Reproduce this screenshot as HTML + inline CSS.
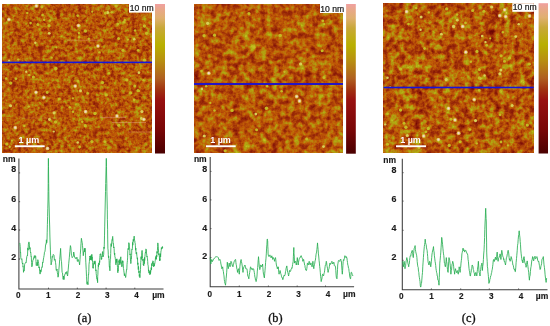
<!DOCTYPE html>
<html><head><meta charset="utf-8"><style>
html,body{margin:0;padding:0;background:#fff;width:550px;height:326px;overflow:hidden}
svg{display:block}
.lab.ylab{font-size:8.9px}
.lab.xlab{font-size:8.2px}
.t10{font:8.6px "Liberation Sans",Arial,sans-serif;fill:#1a1a1a;stroke:#1a1a1a;stroke-width:0.22}
.sbt{font:bold 9px "Liberation Sans",Arial,sans-serif;fill:#fff}
.lab{font:bold 8.5px "Liberation Sans",Arial,sans-serif;fill:#1a1a1a;stroke:#1a1a1a;stroke-width:0.15}
.pl{font:12.4px "Liberation Serif","Times New Roman",serif;fill:#111;stroke:#111;stroke-width:0.3}
.axis{fill:none;stroke:#3c3c3c;stroke-width:1.05}
.tick{fill:none;stroke:#444;stroke-width:1}
.crv{fill:none;stroke:#28ad52;stroke-width:0.85;stroke-linejoin:round}
</style></head><body>
<svg width="550" height="326" viewBox="0 0 550 326">
<defs>
<filter id="dblur" x="-5%" y="-5%" width="110%" height="110%"><feGaussianBlur stdDeviation="0.45"/></filter>
<filter id="fa" x="0" y="0" width="1" height="1" color-interpolation-filters="sRGB">
<feTurbulence type="fractalNoise" baseFrequency="0.07" numOctaves="2" seed="7" result="t1"/>
<feColorMatrix in="t1" type="matrix" values="1 0 0 0 0 1 0 0 0 0 1 0 0 0 0 0 0 0 0 1" result="n1"/>
<feTurbulence type="fractalNoise" baseFrequency="0.28" numOctaves="3" seed="12" result="t2"/>
<feColorMatrix in="t2" type="matrix" values="1 0 0 0 0 1 0 0 0 0 1 0 0 0 0 0 0 0 0 1" result="n2"/>
<feComposite in="n1" in2="n2" operator="arithmetic" k1="0" k2="0.3" k3="0.7" k4="0" result="h"/>
<feTurbulence type="fractalNoise" baseFrequency="0.15" numOctaves="1" seed="18" result="t3"/>
<feColorMatrix in="t3" type="matrix" values="1 0 0 0 0 1 0 0 0 0 1 0 0 0 0 0 0 0 0 1" result="n3"/>
<feComponentTransfer in="n3" result="sp"><feFuncR type="linear" slope="12" intercept="-8.340"/><feFuncG type="linear" slope="12" intercept="-8.340"/><feFuncB type="linear" slope="12" intercept="-8.340"/></feComponentTransfer>
<feComposite in="h" in2="sp" operator="arithmetic" k1="0" k2="1" k3="0.0" k4="0" result="h2"/>
<feTurbulence type="fractalNoise" baseFrequency="0.11" numOctaves="1" seed="24" result="t4"/>
<feColorMatrix in="t4" type="matrix" values="1 0 0 0 0 1 0 0 0 0 1 0 0 0 0 0 0 0 0 1" result="n4"/>
<feComponentTransfer in="n4" result="pm"><feFuncR type="linear" slope="2.800" intercept="0.034"/><feFuncG type="linear" slope="2.800" intercept="0.034"/><feFuncB type="linear" slope="2.800" intercept="0.034"/></feComponentTransfer>
<feComposite in="h2" in2="pm" operator="arithmetic" k1="1" k2="0" k3="0" k4="0" result="h3"/>
<feColorMatrix in="h3" type="matrix" values="0.75 0 0 0 0.12 0.75 0 0 0 0.12 0.75 0 0 0 0.12 0 0 0 0 1"/>
<feComponentTransfer>
<feFuncR type="table" tableValues="0.251 0.285 0.320 0.354 0.388 0.423 0.457 0.488 0.518 0.547 0.575 0.599 0.624 0.657 0.692 0.724 0.753 0.748 0.738 0.721 0.705 0.699 0.693 0.712 0.749 0.786 0.823 0.859 0.892 0.920 0.945 0.959 0.973"/>
<feFuncG type="table" tableValues="0.000 0.005 0.010 0.015 0.020 0.025 0.029 0.049 0.078 0.108 0.135 0.160 0.184 0.226 0.272 0.314 0.353 0.407 0.464 0.527 0.587 0.630 0.673 0.705 0.729 0.754 0.778 0.803 0.809 0.795 0.788 0.802 0.816"/>
<feFuncB type="table" tableValues="0.000 0.002 0.005 0.007 0.010 0.012 0.015 0.019 0.024 0.028 0.031 0.031 0.031 0.031 0.031 0.028 0.024 0.028 0.037 0.051 0.063 0.063 0.063 0.085 0.122 0.162 0.297 0.432 0.542 0.626 0.704 0.760 0.816"/>
</feComponentTransfer>
<feGaussianBlur stdDeviation="0.5"/>
</filter>
<linearGradient id="ga" x1="0" y1="0" x2="0" y2="1"><stop offset="0" stop-color="#f0a0a0"/><stop offset="0.04" stop-color="#e8a888"/><stop offset="0.094" stop-color="#e0b070"/><stop offset="0.161" stop-color="#c8a838"/><stop offset="0.275" stop-color="#b8b000"/><stop offset="0.376" stop-color="#b89010"/><stop offset="0.497" stop-color="#b06020"/><stop offset="0.577" stop-color="#a03010"/><stop offset="0.644" stop-color="#981010"/><stop offset="0.846" stop-color="#780606"/><stop offset="1" stop-color="#4a0000"/></linearGradient>
<filter id="fb" x="0" y="0" width="1" height="1" color-interpolation-filters="sRGB">
<feTurbulence type="fractalNoise" baseFrequency="0.07" numOctaves="2" seed="19" result="t1"/>
<feColorMatrix in="t1" type="matrix" values="1 0 0 0 0 1 0 0 0 0 1 0 0 0 0 0 0 0 0 1" result="n1"/>
<feTurbulence type="fractalNoise" baseFrequency="0.18" numOctaves="3" seed="24" result="t2"/>
<feColorMatrix in="t2" type="matrix" values="1 0 0 0 0 1 0 0 0 0 1 0 0 0 0 0 0 0 0 1" result="n2"/>
<feComposite in="n1" in2="n2" operator="arithmetic" k1="0" k2="0.35" k3="0.65" k4="0" result="h"/>
<feTurbulence type="fractalNoise" baseFrequency="0.15" numOctaves="1" seed="30" result="t3"/>
<feColorMatrix in="t3" type="matrix" values="1 0 0 0 0 1 0 0 0 0 1 0 0 0 0 0 0 0 0 1" result="n3"/>
<feComponentTransfer in="n3" result="sp"><feFuncR type="linear" slope="12" intercept="-8.340"/><feFuncG type="linear" slope="12" intercept="-8.340"/><feFuncB type="linear" slope="12" intercept="-8.340"/></feComponentTransfer>
<feComposite in="h" in2="sp" operator="arithmetic" k1="0" k2="1" k3="0.0" k4="0" result="h2"/>
<feTurbulence type="fractalNoise" baseFrequency="0.12" numOctaves="1" seed="36" result="t4"/>
<feColorMatrix in="t4" type="matrix" values="1 0 0 0 0 1 0 0 0 0 1 0 0 0 0 0 0 0 0 1" result="n4"/>
<feComponentTransfer in="n4" result="pm"><feFuncR type="linear" slope="0.000" intercept="1.000"/><feFuncG type="linear" slope="0.000" intercept="1.000"/><feFuncB type="linear" slope="0.000" intercept="1.000"/></feComponentTransfer>
<feComposite in="h2" in2="pm" operator="arithmetic" k1="1" k2="0" k3="0" k4="0" result="h3"/>
<feColorMatrix in="h3" type="matrix" values="0.9 0 0 0 0.035 0.9 0 0 0 0.035 0.9 0 0 0 0.035 0 0 0 0 1"/>
<feComponentTransfer>
<feFuncR type="table" tableValues="0.251 0.285 0.320 0.354 0.388 0.423 0.457 0.488 0.518 0.547 0.575 0.599 0.624 0.657 0.692 0.724 0.753 0.748 0.738 0.721 0.705 0.699 0.693 0.712 0.749 0.786 0.823 0.859 0.892 0.920 0.945 0.959 0.973"/>
<feFuncG type="table" tableValues="0.000 0.005 0.010 0.015 0.020 0.025 0.029 0.049 0.078 0.108 0.135 0.160 0.184 0.226 0.272 0.314 0.353 0.407 0.464 0.527 0.587 0.630 0.673 0.705 0.729 0.754 0.778 0.803 0.809 0.795 0.788 0.802 0.816"/>
<feFuncB type="table" tableValues="0.000 0.002 0.005 0.007 0.010 0.012 0.015 0.019 0.024 0.028 0.031 0.031 0.031 0.031 0.031 0.028 0.024 0.028 0.037 0.051 0.063 0.063 0.063 0.085 0.122 0.162 0.297 0.432 0.542 0.626 0.704 0.760 0.816"/>
</feComponentTransfer>
<feGaussianBlur stdDeviation="0.7"/>
</filter>
<linearGradient id="gb" x1="0" y1="0" x2="0" y2="1"><stop offset="0" stop-color="#f0a0a0"/><stop offset="0.04" stop-color="#e8a888"/><stop offset="0.094" stop-color="#e0b070"/><stop offset="0.161" stop-color="#c8a838"/><stop offset="0.275" stop-color="#b8b000"/><stop offset="0.376" stop-color="#b89010"/><stop offset="0.497" stop-color="#b06020"/><stop offset="0.577" stop-color="#a03010"/><stop offset="0.644" stop-color="#981010"/><stop offset="0.846" stop-color="#780606"/><stop offset="1" stop-color="#4a0000"/></linearGradient>
<filter id="fc" x="0" y="0" width="1" height="1" color-interpolation-filters="sRGB">
<feTurbulence type="fractalNoise" baseFrequency="0.07" numOctaves="2" seed="31" result="t1"/>
<feColorMatrix in="t1" type="matrix" values="1 0 0 0 0 1 0 0 0 0 1 0 0 0 0 0 0 0 0 1" result="n1"/>
<feTurbulence type="fractalNoise" baseFrequency="0.2" numOctaves="3" seed="36" result="t2"/>
<feColorMatrix in="t2" type="matrix" values="1 0 0 0 0 1 0 0 0 0 1 0 0 0 0 0 0 0 0 1" result="n2"/>
<feComposite in="n1" in2="n2" operator="arithmetic" k1="0" k2="0.4" k3="0.6" k4="0" result="h"/>
<feTurbulence type="fractalNoise" baseFrequency="0.15" numOctaves="1" seed="42" result="t3"/>
<feColorMatrix in="t3" type="matrix" values="1 0 0 0 0 1 0 0 0 0 1 0 0 0 0 0 0 0 0 1" result="n3"/>
<feComponentTransfer in="n3" result="sp"><feFuncR type="linear" slope="12" intercept="-8.340"/><feFuncG type="linear" slope="12" intercept="-8.340"/><feFuncB type="linear" slope="12" intercept="-8.340"/></feComponentTransfer>
<feComposite in="h" in2="sp" operator="arithmetic" k1="0" k2="1" k3="0.0" k4="0" result="h2"/>
<feTurbulence type="fractalNoise" baseFrequency="0.12" numOctaves="1" seed="48" result="t4"/>
<feColorMatrix in="t4" type="matrix" values="1 0 0 0 0 1 0 0 0 0 1 0 0 0 0 0 0 0 0 1" result="n4"/>
<feComponentTransfer in="n4" result="pm"><feFuncR type="linear" slope="1.200" intercept="0.592"/><feFuncG type="linear" slope="1.200" intercept="0.592"/><feFuncB type="linear" slope="1.200" intercept="0.592"/></feComponentTransfer>
<feComposite in="h2" in2="pm" operator="arithmetic" k1="1" k2="0" k3="0" k4="0" result="h3"/>
<feColorMatrix in="h3" type="matrix" values="1.0 0 0 0 -0.01 1.0 0 0 0 -0.01 1.0 0 0 0 -0.01 0 0 0 0 1"/>
<feComponentTransfer>
<feFuncR type="table" tableValues="0.251 0.285 0.320 0.354 0.388 0.423 0.457 0.488 0.518 0.547 0.575 0.599 0.624 0.657 0.692 0.724 0.753 0.748 0.738 0.721 0.705 0.699 0.693 0.712 0.749 0.786 0.823 0.859 0.892 0.920 0.945 0.959 0.973"/>
<feFuncG type="table" tableValues="0.000 0.005 0.010 0.015 0.020 0.025 0.029 0.049 0.078 0.108 0.135 0.160 0.184 0.226 0.272 0.314 0.353 0.407 0.464 0.527 0.587 0.630 0.673 0.705 0.729 0.754 0.778 0.803 0.809 0.795 0.788 0.802 0.816"/>
<feFuncB type="table" tableValues="0.000 0.002 0.005 0.007 0.010 0.012 0.015 0.019 0.024 0.028 0.031 0.031 0.031 0.031 0.031 0.028 0.024 0.028 0.037 0.051 0.063 0.063 0.063 0.085 0.122 0.162 0.297 0.432 0.542 0.626 0.704 0.760 0.816"/>
</feComponentTransfer>
<feGaussianBlur stdDeviation="0.6"/>
</filter>
<linearGradient id="gc" x1="0" y1="0" x2="0" y2="1"><stop offset="0" stop-color="#f0a0a0"/><stop offset="0.04" stop-color="#e8a888"/><stop offset="0.094" stop-color="#e0b070"/><stop offset="0.161" stop-color="#c8a838"/><stop offset="0.275" stop-color="#b8b000"/><stop offset="0.376" stop-color="#b89010"/><stop offset="0.497" stop-color="#b06020"/><stop offset="0.577" stop-color="#a03010"/><stop offset="0.644" stop-color="#981010"/><stop offset="0.846" stop-color="#780606"/><stop offset="1" stop-color="#4a0000"/></linearGradient>
</defs>
<rect x="2" y="4" width="150" height="149" filter="url(#fa)"/>
<g filter="url(#dblur)"><circle cx="144.4" cy="26.0" r="1.7" fill="#c4bc24" opacity="1"/><circle cx="30.6" cy="23.1" r="1.3" fill="#c4bc24" opacity="1"/><circle cx="134.3" cy="39.3" r="1.3" fill="#d8d058" opacity="1"/><circle cx="91.9" cy="141.6" r="1.7" fill="#c4bc24" opacity="1"/><circle cx="107.6" cy="12.6" r="1.5" fill="#d8d058" opacity="1"/><circle cx="49.2" cy="33.3" r="1.4" fill="#d8d058" opacity="1"/><circle cx="141.4" cy="118.5" r="1.4" fill="#d8d058" opacity="1"/><circle cx="106.2" cy="94.9" r="1.7" fill="#c4bc24" opacity="1"/><circle cx="49.4" cy="119.5" r="1.4" fill="#d8d058" opacity="1"/><circle cx="24.4" cy="126.0" r="1.2" fill="#c4bc24" opacity="1"/><circle cx="10.7" cy="83.1" r="1.7" fill="#c4bc24" opacity="1"/><circle cx="77.9" cy="81.0" r="1.5" fill="#c4bc24" opacity="1"/><circle cx="138.2" cy="50.4" r="1.4" fill="#c4bc24" opacity="1"/><circle cx="47.2" cy="92.5" r="1.4" fill="#c4bc24" opacity="1"/><circle cx="102.5" cy="82.6" r="1.7" fill="#c4bc24" opacity="1"/><circle cx="55.8" cy="68.5" r="1.7" fill="#c4bc24" opacity="1"/><circle cx="143.5" cy="80.3" r="1.2" fill="#c4bc24" opacity="1"/><circle cx="135.1" cy="30.5" r="1.3" fill="#c4bc24" opacity="1"/><circle cx="51.8" cy="57.7" r="1.1" fill="#c4bc24" opacity="1"/><circle cx="82.2" cy="121.7" r="1.2" fill="#c4bc24" opacity="1"/><circle cx="105.5" cy="13.1" r="1.6" fill="#c4bc24" opacity="1"/><circle cx="138.9" cy="72.7" r="1.4" fill="#d8d058" opacity="1"/><circle cx="80.5" cy="90.8" r="1.5" fill="#d8d058" opacity="1"/><circle cx="73.0" cy="111.7" r="1.3" fill="#c4bc24" opacity="1"/><circle cx="118.8" cy="125.2" r="1.7" fill="#c4bc24" opacity="1"/><circle cx="6.2" cy="78.5" r="1.3" fill="#c4bc24" opacity="1"/><circle cx="28.7" cy="106.5" r="1.3" fill="#c4bc24" opacity="1"/><circle cx="9.7" cy="146.7" r="1.2" fill="#c4bc24" opacity="1"/><circle cx="35.3" cy="42.7" r="1.2" fill="#d8d058" opacity="1"/><circle cx="44.1" cy="19.7" r="1.2" fill="#c4bc24" opacity="1"/><circle cx="54.1" cy="112.8" r="1.6" fill="#d8d058" opacity="1"/><circle cx="9.1" cy="60.7" r="1.1" fill="#d8d058" opacity="1"/><circle cx="33.4" cy="77.0" r="1.6" fill="#c4bc24" opacity="1"/><circle cx="109.1" cy="73.3" r="1.2" fill="#c4bc24" opacity="1"/><circle cx="42.6" cy="15.0" r="1.2" fill="#c4bc24" opacity="1"/><circle cx="134.2" cy="99.8" r="1.4" fill="#c4bc24" opacity="1"/><circle cx="92.2" cy="11.7" r="1.1" fill="#c4bc24" opacity="1"/><circle cx="116.1" cy="6.1" r="1.7" fill="#c4bc24" opacity="1"/><circle cx="127.9" cy="39.6" r="1.2" fill="#c4bc24" opacity="1"/><circle cx="53.8" cy="131.6" r="1.1" fill="#d8d058" opacity="1"/><circle cx="59.3" cy="99.0" r="1.6" fill="#c4bc24" opacity="1"/><circle cx="134.8" cy="86.0" r="1.6" fill="#c4bc24" opacity="1"/><circle cx="78.9" cy="33.0" r="1.2" fill="#c4bc24" opacity="1"/><circle cx="126.8" cy="79.9" r="1.6" fill="#c4bc24" opacity="1"/><circle cx="146.6" cy="33.3" r="1.6" fill="#c4bc24" opacity="1"/><circle cx="115.5" cy="62.0" r="1.2" fill="#c4bc24" opacity="1"/><circle cx="27.3" cy="12.9" r="1.2" fill="#c4bc24" opacity="1"/><circle cx="79.6" cy="147.0" r="1.4" fill="#c4bc24" opacity="1"/><circle cx="130.6" cy="92.9" r="1.6" fill="#c4bc24" opacity="1"/><circle cx="6.7" cy="144.0" r="1.6" fill="#c4bc24" opacity="1"/><circle cx="124.8" cy="19.9" r="1.2" fill="#c4bc24" opacity="1"/><circle cx="77.7" cy="142.5" r="1.3" fill="#d8d058" opacity="1"/><circle cx="95.0" cy="113.5" r="1.7" fill="#c4bc24" opacity="1"/><circle cx="141.9" cy="111.6" r="1.6" fill="#d8d058" opacity="1"/><circle cx="99.4" cy="52.4" r="1.2" fill="#c4bc24" opacity="1"/><circle cx="11.9" cy="140.7" r="1.1" fill="#c4bc24" opacity="1"/><circle cx="50.0" cy="20.6" r="1.3" fill="#c4bc24" opacity="1"/><circle cx="29.3" cy="75.1" r="1.3" fill="#c4bc24" opacity="1"/><circle cx="123.0" cy="50.3" r="1.6" fill="#c4bc24" opacity="1"/><circle cx="144.5" cy="60.2" r="1.7" fill="#c4bc24" opacity="1"/><circle cx="79.1" cy="37.3" r="1.2" fill="#c4bc24" opacity="1"/><circle cx="49.1" cy="25.8" r="1.7" fill="#c4bc24" opacity="1"/><circle cx="124.1" cy="22.0" r="1.6" fill="#c4bc24" opacity="1"/><circle cx="77.7" cy="15.6" r="1.3" fill="#c4bc24" opacity="1"/><circle cx="137.9" cy="90.6" r="1.5" fill="#c4bc24" opacity="1"/><circle cx="10.6" cy="105.7" r="1.5" fill="#d8d058" opacity="1"/><circle cx="56.5" cy="47.3" r="1.1" fill="#c4bc24" opacity="1"/><circle cx="26.2" cy="71.7" r="1.2" fill="#d8d058" opacity="1"/><circle cx="72.9" cy="98.3" r="1.1" fill="#c4bc24" opacity="1"/><circle cx="138.8" cy="90.9" r="1.2" fill="#c4bc24" opacity="1"/><circle cx="104.8" cy="141.7" r="1.3" fill="#c4bc24" opacity="1"/><circle cx="85.4" cy="31.0" r="1.7" fill="#c4bc24" opacity="1"/><circle cx="85.3" cy="125.7" r="1.6" fill="#c4bc24" opacity="1"/><circle cx="118.6" cy="38.4" r="1.5" fill="#c4bc24" opacity="1"/><circle cx="87.7" cy="93.4" r="1.4" fill="#c4bc24" opacity="1"/><circle cx="55.6" cy="122.0" r="1.7" fill="#c4bc24" opacity="1"/><circle cx="88.8" cy="38.8" r="1.2" fill="#c4bc24" opacity="1"/><circle cx="111.7" cy="12.2" r="1.3" fill="#c4bc24" opacity="1"/><circle cx="117.7" cy="24.0" r="1.5" fill="#c4bc24" opacity="1"/><circle cx="37.8" cy="24.5" r="1.5" fill="#c4bc24" opacity="1"/><circle cx="41.9" cy="6.8" r="1.6" fill="#c4bc24" opacity="1"/><circle cx="26.7" cy="142.8" r="1.2" fill="#c4bc24" opacity="1"/><circle cx="18.2" cy="59.6" r="1.2" fill="#c4bc24" opacity="1"/><circle cx="15.9" cy="78.7" r="1.4" fill="#c4bc24" opacity="1"/><circle cx="69.8" cy="107.3" r="1.2" fill="#c4bc24" opacity="1"/><circle cx="36.4" cy="5.9" r="1.9" fill="#d8c850"/><circle cx="36.4" cy="5.9" r="1.1" fill="#f8d0d0"/><circle cx="78.5" cy="25.6" r="1.9" fill="#d8c850"/><circle cx="78.5" cy="25.6" r="1.1" fill="#f8d0d0"/><circle cx="98.0" cy="46.0" r="1.9" fill="#d8c850"/><circle cx="98.0" cy="46.0" r="1.1" fill="#f8d0d0"/><circle cx="36.0" cy="92.3" r="1.9" fill="#d8c850"/><circle cx="36.0" cy="92.3" r="1.1" fill="#f8d0d0"/><circle cx="43.9" cy="97.5" r="1.9" fill="#d8c850"/><circle cx="43.9" cy="97.5" r="1.1" fill="#f8d0d0"/><circle cx="85.6" cy="111.7" r="1.9" fill="#d8c850"/><circle cx="85.6" cy="111.7" r="1.1" fill="#f8d0d0"/><circle cx="117.0" cy="116.0" r="1.9" fill="#d8c850"/><circle cx="117.0" cy="116.0" r="1.1" fill="#f8d0d0"/><circle cx="143.8" cy="119.3" r="1.9" fill="#d8c850"/><circle cx="143.8" cy="119.3" r="1.1" fill="#f8d0d0"/><circle cx="8.9" cy="19.5" r="1.9" fill="#d8c850"/><circle cx="8.9" cy="19.5" r="1.1" fill="#f8d0d0"/><circle cx="15.3" cy="127.7" r="1.9" fill="#d8c850"/><circle cx="15.3" cy="127.7" r="1.1" fill="#f8d0d0"/><circle cx="47.5" cy="148.4" r="1.9" fill="#d8c850"/><circle cx="47.5" cy="148.4" r="1.1" fill="#f8d0d0"/><circle cx="75.2" cy="86.1" r="1.9" fill="#d8c850"/><circle cx="75.2" cy="86.1" r="1.1" fill="#f8d0d0"/></g>
<rect x="2" y="61.60" width="150" height="1.6" fill="#1416dc"/>
<rect x="67" y="39.800000000000004" width="33" height="0.8" fill="#f0b0a0" opacity="0.35"/>
<rect x="100" y="116.89999999999999" width="26" height="0.8" fill="#f0b0a0" opacity="0.5"/>
<rect x="112" y="122.1" width="34" height="0.8" fill="#f0b0a0" opacity="0.45"/>
<rect x="128" y="131.6" width="24" height="0.8" fill="#f0b0a0" opacity="0.35"/>
<rect x="20" y="117.6" width="40" height="0.8" fill="#f0b0a0" opacity="0.2"/>
<rect x="129" y="4" width="23.5" height="8.6" fill="#fff"/>
<text x="129.7" y="11.3" class="t10">10 nm</text>
<rect x="155" y="4" width="10" height="149.5" fill="url(#ga)"/>
<rect x="14.9" y="145.3" width="29.8" height="1.9" fill="#fff"/>
<text x="28.9" y="143.2" class="sbt" text-anchor="middle">1 µm</text>
<path d="M18.9,158.5V288.9H163.5" class="axis"/>
<path d="M18.9,172.9h1.2" class="tick"/>
<path d="M18.9,201.7h1.2" class="tick"/>
<path d="M18.9,230.0h1.2" class="tick"/>
<path d="M18.9,259.0h1.2" class="tick"/>
<path d="M48.5,288.9v-1.2" class="tick"/>
<path d="M77.3,288.9v-1.2" class="tick"/>
<path d="M106.1,288.9v-1.2" class="tick"/>
<path d="M134.8,288.9v-1.2" class="tick"/>
<text x="16.2" y="172.4" class="lab ylab" text-anchor="end">8</text>
<text x="16.2" y="201.6" class="lab ylab" text-anchor="end">6</text>
<text x="16.2" y="230.7" class="lab ylab" text-anchor="end">4</text>
<text x="16.2" y="259.7" class="lab ylab" text-anchor="end">2</text>
<text x="2.8" y="162.0" class="lab">nm</text>
<text x="18.4" y="297.7" class="lab xlab" text-anchor="middle">0</text>
<text x="48.4" y="297.7" class="lab xlab" text-anchor="middle">1</text>
<text x="78.0" y="297.7" class="lab xlab" text-anchor="middle">2</text>
<text x="107.4" y="297.7" class="lab xlab" text-anchor="middle">3</text>
<text x="136.5" y="297.7" class="lab xlab" text-anchor="middle">4</text>
<text x="164.6" y="297.7" class="lab" text-anchor="end">µm</text>
<polyline points="19.8,242.9 20.0,244.8 20.2,246.7 20.4,252.6 20.6,252.1 20.8,257.6 21.2,259.1 21.5,259.4 21.9,258.8 22.2,262.8 22.6,264.0 22.8,262.9 23.0,266.9 23.1,266.4 23.3,268.2 23.5,272.3 23.9,270.0 24.3,270.6 24.6,264.5 25.0,263.3 25.4,263.1 25.8,262.4 26.1,262.8 26.5,259.1 26.8,256.6 27.2,255.7 27.5,256.0 27.8,247.9 28.1,250.2 28.4,244.2 28.7,242.9 28.9,241.9 29.2,242.8 29.4,245.1 29.7,249.2 29.9,248.4 30.1,247.6 30.3,251.1 30.5,252.5 30.7,252.0 30.9,253.9 31.1,256.8 31.3,256.4 31.4,259.0 31.6,262.5 31.8,266.8 32.2,266.0 32.5,262.7 32.9,260.2 33.2,260.0 33.6,257.6 34.0,256.9 34.4,255.6 34.7,258.2 35.1,257.3 35.5,255.7 35.7,256.0 35.9,259.8 36.0,261.4 36.2,265.3 36.4,264.9 36.8,265.6 37.1,262.2 37.5,265.6 37.8,259.7 38.2,261.3 38.6,263.4 39.0,268.0 39.3,266.9 39.7,271.5 40.1,274.1 40.5,269.9 40.8,272.2 41.2,271.3 41.5,268.7 41.9,266.8 42.3,267.2 42.6,262.0 43.0,262.5 43.3,260.0 43.7,257.6 44.1,255.5 44.5,252.2 44.8,251.9 45.2,249.9 45.6,244.7 45.9,243.8 46.2,244.2 46.4,239.8 46.7,242.9 47.0,241.0 47.2,232.8 47.4,224.6 47.6,216.4 47.8,208.2 48.0,200.0 48.1,191.7 48.2,183.4 48.2,175.0 48.3,166.7 48.4,158.4 48.5,166.7 48.6,175.0 48.7,183.4 48.8,191.7 48.9,200.0 49.2,209.0 49.4,218.0 49.7,227.0 49.9,236.0 50.2,245.0 50.4,249.9 50.6,255.9 50.7,258.9 50.9,259.6 51.1,264.9 51.5,262.4 51.8,262.2 52.2,256.5 52.5,257.3 52.9,255.7 53.3,254.4 53.7,254.9 54.0,255.3 54.4,260.3 54.8,259.4 55.2,259.4 55.5,262.3 55.9,265.3 56.2,270.4 56.6,270.4 57.0,269.0 57.3,272.3 57.7,274.1 58.0,277.2 58.4,276.0 58.8,270.5 59.3,265.0 59.7,259.4 60.2,253.9 60.6,248.4 60.9,255.1 61.2,260.1 61.5,261.4 61.8,267.0 62.1,272.3 62.5,272.9 62.9,277.5 63.2,279.4 63.6,276.0 64.0,279.6 64.4,276.2 64.7,275.1 65.1,273.6 65.4,273.7 65.8,272.3 66.2,273.6 66.5,272.4 66.9,271.5 67.2,274.8 67.6,276.0 68.2,269.9 68.7,263.8 69.3,257.8 69.8,251.7 70.4,245.6 70.8,247.2 71.1,250.8 71.5,255.5 71.8,256.3 72.2,257.6 72.6,257.0 73.0,256.8 73.3,256.4 73.7,252.0 74.1,253.9 74.5,257.0 74.8,257.1 75.2,258.4 75.5,258.6 75.9,257.6 76.3,257.7 76.6,258.5 77.0,257.4 77.3,261.4 77.7,261.3 78.1,259.4 78.5,260.1 78.8,261.7 79.2,262.2 79.6,264.9 80.0,259.6 80.3,254.3 80.7,248.9 81.0,243.6 81.4,238.3 81.8,240.8 82.2,242.6 82.5,245.7 82.9,250.1 83.3,255.7 83.7,251.8 84.0,251.9 84.4,248.4 84.7,251.9 85.1,248.2 85.5,255.2 85.8,262.2 86.2,269.3 86.5,276.3 86.9,283.3 87.1,284.3 87.3,281.8 87.6,282.7 87.8,283.5 88.0,284.7 88.2,279.9 88.4,274.5 88.6,274.9 88.8,271.7 89.0,264.8 89.2,263.0 89.4,261.5 89.6,257.5 89.8,256.0 90.0,256.8 90.2,256.3 90.4,256.2 90.6,260.0 90.8,256.4 91.0,258.8 91.2,255.3 91.4,260.3 91.6,257.2 91.8,254.3 92.0,255.8 92.2,258.3 92.4,257.4 92.6,262.6 92.8,267.5 93.0,266.8 93.2,268.4 93.4,266.8 93.6,263.6 93.8,263.6 94.0,263.8 94.2,261.2 94.4,264.2 94.6,262.2 94.8,263.1 95.0,260.8 95.2,261.6 95.4,262.7 95.6,268.1 95.8,270.9 96.0,269.8 96.2,273.7 96.4,275.2 96.6,277.0 96.8,278.4 97.0,278.7 97.1,277.9 97.2,280.4 97.4,280.2 97.5,279.1 97.6,282.7 97.7,276.3 97.9,274.2 98.0,270.5 98.2,269.5 98.3,264.8 98.5,266.7 98.8,262.9 99.0,265.0 99.3,264.5 99.5,260.8 99.7,262.4 99.8,257.6 100.0,255.6 100.1,254.4 100.3,254.9 100.5,253.7 100.8,254.3 101.0,257.4 101.3,259.6 101.5,257.8 101.7,259.1 101.8,256.1 102.0,256.4 102.1,256.5 102.3,253.9 102.5,251.6 102.8,255.3 103.0,257.0 103.3,256.4 103.5,254.9 103.7,254.4 103.8,250.8 104.0,247.0 104.1,248.6 104.3,244.9 104.5,235.9 104.7,226.9 104.9,218.0 105.1,209.0 105.3,200.0 105.5,191.7 105.7,183.4 105.9,175.0 106.1,166.7 106.3,158.4 106.5,166.7 106.6,175.0 106.8,183.4 106.9,191.7 107.1,200.0 107.3,209.8 107.4,219.6 107.6,229.3 107.7,239.1 107.9,248.9 108.1,249.9 108.3,254.7 108.5,257.7 108.7,256.2 108.9,258.8 109.1,260.6 109.3,266.3 109.5,267.3 109.7,266.4 109.9,270.8 110.1,263.8 110.3,259.1 110.5,258.9 110.7,253.5 110.9,246.9 111.1,243.6 111.3,246.5 111.5,246.2 111.7,243.0 111.9,240.9 112.1,239.6 112.3,240.4 112.5,237.5 112.7,236.4 112.9,238.9 113.1,243.3 113.3,243.0 113.5,243.9 113.7,247.9 113.9,246.9 114.1,248.5 114.3,253.1 114.5,254.8 114.7,253.1 114.9,256.8 115.1,256.9 115.3,258.8 115.5,260.0 115.7,263.7 115.9,264.8 116.1,262.2 116.3,261.9 116.5,259.0 116.7,262.5 116.9,258.8 117.1,260.7 117.3,264.1 117.5,267.7 117.7,272.4 117.9,272.8 118.1,269.9 118.3,270.5 118.5,265.6 118.7,263.4 118.9,260.8 119.1,261.7 119.3,259.5 119.4,262.8 119.6,262.1 119.8,264.8 120.0,260.2 120.2,263.4 120.4,258.0 120.6,258.2 120.8,256.8 121.0,260.2 121.2,261.1 121.4,261.8 121.6,264.9 121.8,266.8 122.0,265.9 122.2,266.1 122.4,260.8 122.6,262.4 122.8,260.8 123.0,261.3 123.2,263.5 123.4,268.4 123.6,268.8 123.8,270.8 124.0,272.0 124.2,274.0 124.4,275.7 124.6,273.7 124.8,274.8 125.0,275.9 125.2,275.6 125.4,276.0 125.6,277.5 125.8,276.7 126.0,274.0 126.3,272.1 126.5,269.4 126.8,269.8 127.0,264.8 127.2,262.8 127.4,260.7 127.6,257.9 127.8,250.6 128.0,248.9 128.2,248.3 128.4,249.6 128.6,247.9 128.8,242.7 129.0,243.9 129.2,243.8 129.4,248.0 129.6,247.9 129.8,251.1 130.0,254.9 130.2,253.9 130.4,259.1 130.6,261.3 130.8,263.6 131.0,262.8 131.2,257.9 131.4,258.5 131.6,255.4 131.8,249.5 132.0,248.9 132.2,249.6 132.4,248.5 132.6,242.4 132.8,245.2 133.0,240.9 133.2,239.5 133.4,239.2 133.6,241.4 133.8,239.7 134.0,236.9 134.2,236.1 134.4,238.9 134.6,240.6 134.8,240.7 135.0,242.9 135.2,243.1 135.4,245.8 135.6,250.2 135.8,248.0 136.0,252.9 136.2,254.0 136.4,254.1 136.6,252.3 136.8,255.0 137.0,256.8 137.2,258.7 137.4,259.3 137.5,257.8 137.7,264.5 137.9,262.8 138.1,266.5 138.3,269.6 138.5,266.4 138.7,269.4 138.9,272.8 139.1,271.0 139.3,276.4 139.5,274.4 139.7,274.5 139.9,277.7 140.1,273.9 140.3,273.4 140.5,269.5 140.7,262.7 140.9,260.8 141.1,256.7 141.3,259.4 141.5,255.3 141.7,254.1 141.9,250.9 142.1,250.4 142.3,252.2 142.5,258.0 142.7,258.4 142.9,260.8 143.1,259.0 143.3,265.0 143.5,264.0 143.7,265.8 143.9,264.8 144.1,260.7 144.3,263.7 144.5,257.4 144.7,260.6 144.9,256.8 145.1,254.9 145.3,252.7 145.5,252.4 145.7,253.0 145.9,248.9 146.1,249.1 146.3,249.8 146.5,253.8 146.7,253.7 146.9,256.8 147.1,256.1 147.3,258.0 147.5,258.9 147.7,261.4 147.9,264.8 148.1,265.3 148.3,266.8 148.5,271.2 148.7,269.9 148.9,272.8 149.1,273.2 149.3,271.7 149.5,273.1 149.7,271.5 149.9,274.8 150.1,272.5 150.3,270.3 150.5,273.8 150.7,271.9 150.9,270.8 151.1,267.7 151.3,268.2 151.5,269.8 151.7,263.6 151.9,264.8 152.1,265.9 152.3,262.8 152.5,262.4 152.7,263.6 152.9,260.8 153.1,261.0 153.3,262.4 153.5,264.3 153.7,266.9 153.9,264.8 154.1,263.5 154.3,266.0 154.5,264.8 154.7,264.0 154.9,262.8 155.1,261.4 155.3,260.3 155.5,257.7 155.7,257.4 155.9,258.8 156.1,255.8 156.3,259.4 156.4,256.1 156.6,255.2 156.8,256.8 157.0,251.5 157.2,253.3 157.4,250.7 157.6,246.7 157.8,242.9 158.0,244.0 158.2,246.2 158.4,248.9 158.6,252.3 158.8,254.9 159.0,253.6 159.2,256.1 159.4,255.8 159.6,260.8 159.8,258.8 160.0,260.5 160.2,256.7 160.4,253.7 160.6,256.9 160.8,252.9 161.0,251.0 161.2,250.4 161.4,247.5 161.6,249.0 161.8,248.9 162.0,248.5 162.2,248.5 162.4,246.5 162.6,248.1 162.8,247.9" class="crv"/>
<text x="84.5" y="321.6" class="pl" text-anchor="middle">(a)</text>
<rect x="194" y="4" width="149" height="149" filter="url(#fb)"/>
<g filter="url(#dblur)"><circle cx="280.3" cy="35.5" r="1.7" fill="#c4bc24" opacity="1"/><circle cx="201.5" cy="71.1" r="1.3" fill="#c4bc24" opacity="1"/><circle cx="323.5" cy="146.6" r="1.4" fill="#d8d058" opacity="1"/><circle cx="322.8" cy="20.8" r="1.4" fill="#c4bc24" opacity="1"/><circle cx="206.2" cy="86.3" r="1.3" fill="#c4bc24" opacity="1"/><circle cx="210.3" cy="102.9" r="1.1" fill="#c4bc24" opacity="1"/><circle cx="322.2" cy="50.8" r="1.5" fill="#c4bc24" opacity="1"/><circle cx="306.6" cy="138.9" r="1.4" fill="#c4bc24" opacity="1"/><circle cx="214.5" cy="110.5" r="1.3" fill="#c4bc24" opacity="1"/><circle cx="232.1" cy="110.4" r="1.6" fill="#c4bc24" opacity="1"/><circle cx="281.6" cy="91.2" r="1.3" fill="#c4bc24" opacity="1"/><circle cx="253.9" cy="47.2" r="1.6" fill="#c4bc24" opacity="1"/><circle cx="284.5" cy="71.8" r="1.2" fill="#c4bc24" opacity="1"/><circle cx="324.0" cy="77.4" r="1.5" fill="#c4bc24" opacity="1"/><circle cx="266.5" cy="108.3" r="1.7" fill="#c4bc24" opacity="1"/><circle cx="324.2" cy="24.2" r="1.1" fill="#c4bc24" opacity="1"/><circle cx="204.1" cy="35.7" r="1.7" fill="#c4bc24" opacity="1"/><circle cx="267.1" cy="86.3" r="1.3" fill="#c4bc24" opacity="1"/><circle cx="266.3" cy="108.2" r="1.3" fill="#c4bc24" opacity="1"/><circle cx="204.3" cy="136.0" r="1.6" fill="#d8d058" opacity="1"/><circle cx="214.5" cy="35.2" r="1.6" fill="#c4bc24" opacity="1"/><circle cx="255.8" cy="114.1" r="1.4" fill="#d8d058" opacity="1"/><circle cx="225.2" cy="150.8" r="1.6" fill="#c4bc24" opacity="1"/><circle cx="201.9" cy="88.9" r="1.3" fill="#d8d058" opacity="1"/><circle cx="256.6" cy="129.7" r="1.5" fill="#c4bc24" opacity="1"/><circle cx="248.9" cy="13.4" r="1.5" fill="#c4bc24" opacity="1"/><circle cx="300.6" cy="63.9" r="1.6" fill="#d8d058" opacity="1"/><circle cx="207.6" cy="23.3" r="1.6" fill="#d8d058" opacity="1"/><circle cx="208.8" cy="73.2" r="1.9" fill="#d8c850"/><circle cx="208.8" cy="73.2" r="1.1" fill="#f8d0d0"/><circle cx="296.7" cy="96.5" r="1.9" fill="#d8c850"/><circle cx="296.7" cy="96.5" r="1.1" fill="#f8d0d0"/><circle cx="299.5" cy="101.0" r="1.9" fill="#d8c850"/><circle cx="299.5" cy="101.0" r="1.1" fill="#f8d0d0"/></g>
<rect x="194" y="83.00" width="149" height="2.0" fill="#2414c4"/>
<rect x="320" y="4" width="23" height="9" fill="#fff"/>
<text x="320.3" y="11.6" class="t10">10 nm</text>
<rect x="346.1" y="4" width="9.7" height="149.7" fill="url(#gb)"/>
<rect x="206" y="145.3" width="29.7" height="1.9" fill="#fff"/>
<text x="220.5" y="143.2" class="sbt" text-anchor="middle">1 µm</text>
<path d="M210.2,157.1V286.8H354.1" class="axis"/>
<path d="M210.2,171.4h1.2" class="tick"/>
<path d="M210.2,199.9h1.2" class="tick"/>
<path d="M210.2,228.6h1.2" class="tick"/>
<path d="M210.2,257.6h1.2" class="tick"/>
<path d="M239.3,286.8v-1.2" class="tick"/>
<path d="M268.4,286.8v-1.2" class="tick"/>
<path d="M297.2,286.8v-1.2" class="tick"/>
<path d="M325.5,286.8v-1.2" class="tick"/>
<text x="207.1" y="172.4" class="lab ylab" text-anchor="end">8</text>
<text x="207.1" y="201.9" class="lab ylab" text-anchor="end">6</text>
<text x="207.1" y="230.6" class="lab ylab" text-anchor="end">4</text>
<text x="207.1" y="259.1" class="lab ylab" text-anchor="end">2</text>
<text x="193.9" y="161.9" class="lab">nm</text>
<text x="209.9" y="297.4" class="lab xlab" text-anchor="middle">0</text>
<text x="239.3" y="297.4" class="lab xlab" text-anchor="middle">1</text>
<text x="269.0" y="297.4" class="lab xlab" text-anchor="middle">2</text>
<text x="298.6" y="297.4" class="lab xlab" text-anchor="middle">3</text>
<text x="328.0" y="297.4" class="lab xlab" text-anchor="middle">4</text>
<text x="355.5" y="297.4" class="lab" text-anchor="end">µm</text>
<polyline points="210.2,257.6 210.4,260.1 210.6,262.4 210.8,264.0 211.1,262.5 211.4,261.0 211.7,259.5 212.0,259.9 212.3,261.7 212.6,261.3 213.2,259.9 213.8,258.7 214.4,258.5 215.0,257.4 215.7,256.8 216.3,256.7 216.9,256.7 217.5,256.8 218.1,257.6 218.4,257.7 218.7,259.1 219.0,260.4 219.3,259.7 219.7,259.9 220.0,259.5 220.3,260.4 220.6,261.6 220.9,264.0 221.2,265.0 221.5,267.2 221.8,268.7 222.1,267.8 222.4,267.9 222.7,266.8 223.0,269.9 223.4,271.6 223.7,274.2 224.0,275.9 224.3,279.6 224.6,281.6 224.9,283.3 225.2,283.8 225.5,285.2 225.8,282.4 226.1,278.7 226.4,276.0 226.7,272.2 227.0,267.5 227.3,262.2 227.6,265.0 228.0,267.4 228.3,268.7 228.6,266.3 228.9,265.1 229.2,263.1 229.5,264.8 229.8,266.2 230.1,266.8 230.4,264.7 230.7,262.4 231.0,261.3 231.3,262.5 231.6,262.3 231.9,264.0 232.2,265.3 232.6,264.9 232.9,266.8 233.2,265.5 233.5,264.3 233.8,263.1 234.1,261.4 234.4,261.3 234.7,260.4 235.0,260.1 235.3,259.5 235.6,259.5 235.9,262.4 236.2,264.5 236.5,265.9 236.8,268.8 237.2,269.7 237.5,272.4 237.8,270.2 238.1,269.7 238.4,268.7 238.7,269.8 239.0,272.8 239.3,274.2 239.6,270.3 239.9,266.7 240.2,264.0 240.5,262.1 240.8,260.8 241.1,259.5 241.4,261.8 241.8,263.1 242.1,265.0 242.4,267.1 242.7,270.3 243.0,272.4 243.3,269.6 243.6,268.1 243.9,266.8 244.2,266.6 244.5,266.1 244.8,265.0 245.1,265.4 245.5,266.6 245.8,268.7 246.2,268.7 246.5,269.0 246.9,268.7 247.2,270.2 247.5,273.4 247.8,276.0 248.1,276.5 248.5,277.0 248.8,278.8 249.1,276.0 249.4,274.1 249.7,272.4 250.0,270.5 250.3,267.9 250.6,266.8 250.9,267.7 251.2,268.8 251.5,268.7 251.8,269.4 252.1,268.4 252.4,269.6 252.7,269.6 253.1,269.3 253.4,268.7 253.7,269.0 254.0,270.9 254.3,272.4 254.6,274.5 254.9,277.0 255.2,277.9 255.5,280.0 255.8,280.5 256.1,281.6 256.4,279.9 256.7,278.8 257.0,276.0 257.3,271.1 257.7,267.4 258.0,263.1 258.2,260.1 258.3,259.4 258.5,256.7 258.8,260.4 259.0,262.9 259.3,266.8 259.5,267.1 259.6,268.7 259.8,269.6 260.1,268.6 260.4,265.8 260.7,265.0 261.0,265.2 261.4,266.2 261.7,266.8 262.0,265.4 262.3,265.7 262.6,264.0 262.9,267.9 263.2,271.7 263.5,274.2 263.8,275.7 264.1,277.0 264.4,277.9 264.7,273.8 265.0,270.5 265.3,266.8 265.6,262.4 266.0,258.2 266.3,253.9 266.6,248.1 266.9,244.8 267.2,239.2 267.4,239.1 267.5,240.3 267.7,241.0 267.8,246.2 268.0,249.6 268.1,253.9 268.4,255.6 268.7,255.3 269.0,256.7 269.3,256.0 269.6,255.3 269.9,254.9 270.2,255.4 270.6,256.4 270.9,257.6 271.2,256.9 271.5,257.1 271.8,255.8 272.1,258.0 272.4,257.5 272.7,259.5 273.0,259.2 273.3,258.3 273.6,257.6 273.9,258.7 274.2,259.1 274.5,261.3 274.8,259.8 275.2,258.5 275.5,257.6 275.8,259.8 276.1,262.7 276.4,265.0 276.7,266.0 277.0,267.1 277.3,268.7 277.6,267.6 277.9,268.4 278.2,266.8 278.5,269.1 278.8,272.7 279.1,274.2 279.4,272.3 279.8,272.1 280.1,270.5 280.4,271.8 280.7,273.4 281.0,274.2 281.3,275.2 281.6,276.8 281.9,277.0 282.2,278.1 282.5,277.9 282.8,279.7 283.1,278.8 283.5,277.5 283.8,276.0 284.2,275.2 284.5,275.9 284.9,275.1 285.2,274.2 285.5,271.6 285.8,270.5 286.1,268.3 286.5,267.0 286.8,265.9 287.1,268.2 287.4,270.1 287.7,272.4 288.0,272.7 288.3,274.7 288.6,276.0 288.9,274.3 289.2,272.5 289.5,270.5 289.8,270.5 290.1,271.7 290.4,271.4 290.7,270.9 291.1,269.1 291.4,268.7 291.7,267.8 292.0,268.3 292.3,266.8 292.6,264.4 292.9,263.0 293.2,261.3 293.4,256.3 293.6,252.3 293.8,247.5 294.0,253.3 294.3,257.1 294.5,263.1 294.8,261.9 295.1,261.0 295.4,261.3 295.7,261.8 296.0,263.8 296.3,265.0 296.6,262.5 297.0,261.0 297.3,257.6 297.6,260.0 297.9,262.6 298.2,265.0 298.5,262.2 298.8,260.8 299.1,259.5 299.4,258.5 299.7,257.7 300.0,257.6 300.3,257.6 300.6,256.2 300.9,255.8 301.2,255.7 301.6,257.1 301.9,257.6 302.2,258.1 302.5,259.4 302.8,261.3 303.1,260.9 303.4,259.3 303.7,259.5 304.0,261.8 304.3,263.0 304.6,265.0 304.9,265.4 305.2,267.8 305.5,268.7 305.8,270.2 306.2,270.4 306.5,270.5 306.8,268.7 307.1,266.4 307.4,263.1 307.7,263.3 308.0,264.3 308.3,265.0 308.6,264.2 308.9,262.3 309.2,261.3 309.5,263.5 309.9,263.6 310.2,265.0 310.5,263.4 310.8,262.9 311.1,263.1 311.4,264.2 311.7,264.6 312.0,266.8 312.3,265.2 312.6,264.1 312.9,261.3 313.2,264.6 313.5,267.2 313.8,268.7 314.1,266.3 314.5,264.3 314.8,263.1 315.1,260.4 315.4,260.3 315.7,257.6 316.0,254.8 316.3,253.1 316.6,252.1 316.9,249.4 317.2,246.9 317.5,242.9 317.8,246.6 318.1,249.4 318.4,253.9 318.7,256.0 319.1,260.7 319.4,263.1 319.7,266.6 320.0,268.9 320.3,272.4 320.6,276.4 320.9,278.1 321.2,281.6 321.5,279.4 321.8,279.5 322.1,277.0 322.3,275.2 322.4,274.9 322.6,274.2 322.9,274.2 323.2,275.7 323.5,276.0 323.8,274.8 324.1,273.1 324.4,272.4 324.7,270.2 325.1,266.7 325.4,265.0 325.7,264.7 326.0,263.1 326.3,261.3 326.6,262.6 326.9,265.2 327.2,266.8 327.5,268.2 327.8,270.7 328.1,272.4 328.4,270.8 328.7,269.4 329.0,268.7 329.3,266.8 329.7,264.1 330.0,263.1 330.3,264.4 330.6,264.3 330.9,264.0 331.2,262.6 331.5,262.4 331.8,261.3 332.1,261.6 332.4,262.4 332.7,264.0 333.0,263.2 333.4,263.2 333.7,262.2 334.0,262.6 334.3,265.5 334.6,265.9 334.9,265.7 335.2,265.8 335.5,266.8 335.8,270.5 336.1,275.0 336.4,277.9 336.6,278.0 336.8,278.6 337.0,278.8 337.2,275.2 337.5,269.7 337.7,265.0 338.0,263.2 338.3,261.3 338.6,260.4 338.9,260.7 339.2,261.3 339.5,261.3 339.8,260.9 340.2,259.5 340.5,259.5 340.8,259.1 341.1,261.6 341.4,261.3 341.7,266.0 342.0,270.6 342.3,274.2 342.6,270.6 342.9,265.5 343.2,261.3 343.5,259.7 343.9,260.4 344.2,258.5 344.5,258.4 344.8,255.8 345.1,255.8 345.4,256.7 345.7,257.0 346.0,257.6 346.3,256.6 346.6,257.7 346.9,257.6 347.2,260.4 347.5,262.4 347.8,265.0 348.1,265.7 348.5,268.2 348.8,268.7 349.1,271.5 349.4,273.1 349.7,276.0 350.0,277.5 350.3,278.7 350.6,278.8 350.8,276.4 350.9,274.7 351.1,272.4 351.4,272.2 351.8,272.9 352.1,274.2 352.4,275.2 352.7,275.7 353.0,275.1" class="crv"/>
<text x="275.4" y="321.6" class="pl" text-anchor="middle">(b)</text>
<rect x="383.5" y="3.2" width="150.3" height="149.6" filter="url(#fc)"/>
<g filter="url(#dblur)"><circle cx="465.5" cy="22.9" r="1.4" fill="#c4bc24" opacity="1"/><circle cx="387.5" cy="77.7" r="1.3" fill="#d8d058" opacity="1"/><circle cx="507.9" cy="145.4" r="1.1" fill="#c4bc24" opacity="1"/><circle cx="449.2" cy="145.4" r="1.6" fill="#c4bc24" opacity="1"/><circle cx="483.9" cy="11.3" r="1.5" fill="#c4bc24" opacity="1"/><circle cx="408.5" cy="24.1" r="1.3" fill="#c4bc24" opacity="1"/><circle cx="486.7" cy="45.3" r="1.3" fill="#c4bc24" opacity="1"/><circle cx="501.0" cy="55.8" r="1.6" fill="#c4bc24" opacity="1"/><circle cx="425.8" cy="131.8" r="1.4" fill="#c4bc24" opacity="1"/><circle cx="420.6" cy="29.7" r="1.2" fill="#d8d058" opacity="1"/><circle cx="499.9" cy="73.8" r="1.6" fill="#d8d058" opacity="1"/><circle cx="387.4" cy="144.2" r="1.5" fill="#c4bc24" opacity="1"/><circle cx="400.5" cy="110.1" r="1.7" fill="#c4bc24" opacity="1"/><circle cx="472.7" cy="10.5" r="1.5" fill="#c4bc24" opacity="1"/><circle cx="404.1" cy="123.3" r="1.5" fill="#c4bc24" opacity="1"/><circle cx="476.7" cy="143.4" r="1.2" fill="#c4bc24" opacity="1"/><circle cx="484.6" cy="75.5" r="1.2" fill="#d8d058" opacity="1"/><circle cx="482.2" cy="36.0" r="1.3" fill="#d8d058" opacity="1"/><circle cx="446.2" cy="79.6" r="1.6" fill="#d8d058" opacity="1"/><circle cx="477.0" cy="51.4" r="1.6" fill="#c4bc24" opacity="1"/><circle cx="453.6" cy="26.5" r="1.7" fill="#d8d058" opacity="1"/><circle cx="428.8" cy="12.4" r="1.2" fill="#c4bc24" opacity="1"/><circle cx="480.3" cy="78.5" r="1.2" fill="#d8d058" opacity="1"/><circle cx="479.2" cy="90.4" r="1.4" fill="#c4bc24" opacity="1"/><circle cx="416.2" cy="8.0" r="1.3" fill="#c4bc24" opacity="1"/><circle cx="385.2" cy="124.4" r="1.2" fill="#d8d058" opacity="1"/><circle cx="421.1" cy="16.9" r="1.5" fill="#d8d058" opacity="1"/><circle cx="500.9" cy="70.1" r="1.5" fill="#d8d058" opacity="1"/><circle cx="424.6" cy="48.5" r="1.4" fill="#c4bc24" opacity="1"/><circle cx="479.4" cy="69.5" r="1.5" fill="#c4bc24" opacity="1"/><circle cx="475.5" cy="120.6" r="1.6" fill="#d8d058" opacity="1"/><circle cx="446.7" cy="8.9" r="1.7" fill="#c4bc24" opacity="1"/><circle cx="501.0" cy="142.0" r="1.4" fill="#c4bc24" opacity="1"/><circle cx="428.3" cy="128.5" r="1.7" fill="#c4bc24" opacity="1"/><circle cx="500.1" cy="114.7" r="1.3" fill="#c4bc24" opacity="1"/><circle cx="387.5" cy="113.8" r="1.3" fill="#c4bc24" opacity="1"/><circle cx="515.8" cy="36.6" r="1.4" fill="#d8d058" opacity="1"/><circle cx="441.4" cy="34.2" r="1.4" fill="#d8d058" opacity="1"/><circle cx="518.7" cy="24.3" r="1.3" fill="#d8d058" opacity="1"/><circle cx="419.0" cy="147.5" r="1.5" fill="#c4bc24" opacity="1"/><circle cx="470.8" cy="61.7" r="1.3" fill="#c4bc24" opacity="1"/><circle cx="460.2" cy="141.7" r="1.5" fill="#c4bc24" opacity="1"/><circle cx="405.9" cy="127.3" r="1.7" fill="#c4bc24" opacity="1"/><circle cx="407.3" cy="135.5" r="1.6" fill="#d8d058" opacity="1"/><circle cx="400.6" cy="69.1" r="1.6" fill="#c4bc24" opacity="1"/><circle cx="491.7" cy="7.0" r="1.6" fill="#d8d058" opacity="1"/><circle cx="479.3" cy="77.9" r="1.6" fill="#c4bc24" opacity="1"/><circle cx="457.3" cy="20.2" r="1.4" fill="#d8d058" opacity="1"/><circle cx="512.2" cy="105.4" r="1.5" fill="#d8d058" opacity="1"/><circle cx="502.9" cy="32.2" r="1.2" fill="#c4bc24" opacity="1"/><circle cx="509.6" cy="57.9" r="1.6" fill="#c4bc24" opacity="1"/><circle cx="529.4" cy="64.2" r="1.4" fill="#c4bc24" opacity="1"/><circle cx="457.1" cy="14.6" r="1.3" fill="#c4bc24" opacity="1"/><circle cx="527.3" cy="125.1" r="1.7" fill="#c4bc24" opacity="1"/><circle cx="490.2" cy="38.4" r="1.1" fill="#c4bc24" opacity="1"/><circle cx="451.0" cy="119.3" r="1.5" fill="#c4bc24" opacity="1"/><circle cx="504.5" cy="61.2" r="1.5" fill="#c4bc24" opacity="1"/><circle cx="469.9" cy="129.6" r="1.4" fill="#c4bc24" opacity="1"/><circle cx="485.5" cy="42.1" r="1.2" fill="#d8d058" opacity="1"/><circle cx="390.2" cy="87.0" r="1.1" fill="#c4bc24" opacity="1"/><circle cx="406.6" cy="11.7" r="1.9" fill="#d8c850"/><circle cx="406.6" cy="11.7" r="1.1" fill="#f8d0d0"/><circle cx="504.7" cy="9.8" r="1.9" fill="#d8c850"/><circle cx="504.7" cy="9.8" r="1.1" fill="#f8d0d0"/><circle cx="499.8" cy="15.7" r="1.9" fill="#d8c850"/><circle cx="499.8" cy="15.7" r="1.1" fill="#f8d0d0"/><circle cx="505.7" cy="16.6" r="1.9" fill="#d8c850"/><circle cx="505.7" cy="16.6" r="1.1" fill="#f8d0d0"/><circle cx="529.5" cy="16.0" r="1.9" fill="#d8c850"/><circle cx="529.5" cy="16.0" r="1.1" fill="#f8d0d0"/><circle cx="462.7" cy="26.4" r="1.9" fill="#d8c850"/><circle cx="462.7" cy="26.4" r="1.1" fill="#f8d0d0"/><circle cx="465.8" cy="52.2" r="1.9" fill="#d8c850"/><circle cx="465.8" cy="52.2" r="1.1" fill="#f8d0d0"/><circle cx="474.2" cy="99.6" r="1.9" fill="#d8c850"/><circle cx="474.2" cy="99.6" r="1.1" fill="#f8d0d0"/><circle cx="448.5" cy="108.4" r="1.9" fill="#d8c850"/><circle cx="448.5" cy="108.4" r="1.1" fill="#f8d0d0"/><circle cx="455.0" cy="120.0" r="1.9" fill="#d8c850"/><circle cx="455.0" cy="120.0" r="1.1" fill="#f8d0d0"/><circle cx="458.6" cy="133.2" r="1.9" fill="#d8c850"/><circle cx="458.6" cy="133.2" r="1.1" fill="#f8d0d0"/><circle cx="423.7" cy="136.0" r="1.9" fill="#d8c850"/><circle cx="423.7" cy="136.0" r="1.1" fill="#f8d0d0"/><circle cx="438.4" cy="139.6" r="1.9" fill="#d8c850"/><circle cx="438.4" cy="139.6" r="1.1" fill="#f8d0d0"/></g>
<rect x="383.5" y="86.70" width="150.3" height="1.6" fill="#1414dc"/>
<rect x="512.3" y="3.2" width="21.5" height="8.6" fill="#fff"/>
<text x="512.7" y="10.4" class="t10">10 nm</text>
<rect x="538.6" y="3.2" width="9.4" height="150.3" fill="url(#gc)"/>
<rect x="396" y="145.3" width="30.0" height="1.9" fill="#fff"/>
<text x="410.5" y="143.2" class="sbt" text-anchor="middle">1 µm</text>
<path d="M402.3,158.8V289.7H547.5" class="axis"/>
<path d="M402.3,172.7h1.2" class="tick"/>
<path d="M402.3,201.1h1.2" class="tick"/>
<path d="M402.3,230.3h1.2" class="tick"/>
<path d="M402.3,260.3h1.2" class="tick"/>
<path d="M431.4,289.7v-1.2" class="tick"/>
<path d="M460.7,289.7v-1.2" class="tick"/>
<path d="M489.3,289.7v-1.2" class="tick"/>
<path d="M518.6,289.7v-1.2" class="tick"/>
<text x="396.5" y="172.9" class="lab ylab" text-anchor="end">8</text>
<text x="396.5" y="202.4" class="lab ylab" text-anchor="end">6</text>
<text x="396.5" y="231.3" class="lab ylab" text-anchor="end">4</text>
<text x="396.5" y="260.0" class="lab ylab" text-anchor="end">2</text>
<text x="383.3" y="162.5" class="lab">nm</text>
<text x="401.4" y="298.6" class="lab xlab" text-anchor="middle">0</text>
<text x="431.6" y="298.6" class="lab xlab" text-anchor="middle">1</text>
<text x="461.3" y="298.6" class="lab xlab" text-anchor="middle">2</text>
<text x="491.4" y="298.6" class="lab xlab" text-anchor="middle">3</text>
<text x="521.1" y="298.6" class="lab xlab" text-anchor="middle">4</text>
<text x="548.3" y="298.6" class="lab" text-anchor="end">µm</text>
<polyline points="402.4,261.3 402.7,261.8 403.0,263.9 403.3,266.8 403.6,264.7 403.8,263.6 404.1,261.3 404.4,262.8 404.7,265.1 405.0,268.7 405.3,266.1 405.6,265.7 405.9,263.1 406.2,260.3 406.5,260.1 406.8,257.6 407.1,259.6 407.4,259.6 407.7,262.2 408.0,263.8 408.4,265.1 408.7,266.8 409.0,264.4 409.3,263.9 409.6,260.4 409.9,257.7 410.2,256.0 410.5,255.8 410.8,256.1 411.1,253.7 411.4,253.0 411.7,251.3 412.0,250.7 412.3,250.3 412.6,252.4 413.0,256.4 413.3,257.6 413.6,253.7 413.9,250.7 414.2,248.4 414.5,247.7 414.8,246.7 415.1,245.6 415.4,249.3 415.7,251.5 416.0,253.0 416.3,254.1 416.6,255.2 416.9,257.6 417.2,261.6 417.6,265.1 417.9,266.8 418.2,267.4 418.5,271.2 418.8,272.4 419.1,275.9 419.4,277.7 419.7,279.7 420.0,281.4 420.3,285.5 420.6,287.1 420.9,286.5 421.2,283.8 421.5,283.4 421.8,280.1 422.2,275.3 422.5,272.4 422.8,266.2 423.1,262.1 423.4,257.6 423.7,253.5 424.0,250.0 424.3,246.6 424.6,244.5 424.9,242.6 425.2,239.2 425.5,242.3 425.9,244.2 426.2,244.7 426.5,247.9 426.8,249.2 427.1,250.3 427.4,253.4 427.7,256.7 428.0,261.3 428.3,262.9 428.6,263.9 428.9,265.0 429.2,264.3 429.5,261.4 429.8,261.3 430.1,262.3 430.5,266.1 430.8,266.8 431.1,264.0 431.4,261.2 431.7,257.6 432.0,254.0 432.3,252.5 432.6,250.3 432.9,250.2 433.2,248.3 433.5,246.6 433.8,251.0 434.1,251.9 434.4,255.8 434.7,258.1 435.1,261.5 435.4,263.1 435.7,265.4 436.0,268.8 436.3,270.5 436.6,272.5 436.9,273.1 437.2,276.0 437.5,276.1 437.8,279.8 438.1,279.7 438.4,280.5 438.7,282.5 439.0,285.2 439.3,277.4 439.5,271.1 439.8,263.1 440.1,260.4 440.5,255.7 440.8,252.1 441.1,247.2 441.4,243.1 441.7,237.4 442.0,239.2 442.3,241.9 442.6,244.7 442.9,248.1 443.2,251.2 443.5,253.9 443.8,255.7 444.1,258.9 444.4,263.1 444.7,263.3 445.1,266.2 445.4,266.8 445.7,264.3 446.0,262.0 446.3,257.6 446.6,261.4 446.9,263.0 447.2,266.8 447.5,269.4 447.8,271.9 448.1,272.4 448.4,267.0 448.7,261.2 449.0,257.6 449.3,259.1 449.7,260.7 450.0,263.1 450.3,265.9 450.6,269.2 450.9,274.2 451.2,270.7 451.5,270.3 451.8,266.8 452.1,263.7 452.4,263.5 452.7,261.3 453.0,262.3 453.4,264.1 453.7,266.8 454.0,270.2 454.3,271.2 454.6,274.2 454.9,271.5 455.2,270.4 455.5,268.7 455.8,270.5 456.1,271.2 456.4,272.4 456.7,272.8 457.0,270.9 457.3,270.5 457.6,271.8 458.0,273.6 458.3,274.2 458.6,271.6 458.9,269.9 459.2,266.8 459.5,268.6 459.8,269.5 460.1,272.4 460.4,268.2 460.7,267.0 461.0,263.1 461.3,260.7 461.6,258.2 461.9,253.9 462.2,252.6 462.6,250.5 462.9,248.4 463.2,248.1 463.5,250.7 463.8,250.3 464.1,249.8 464.4,251.3 464.7,252.1 465.0,250.5 465.3,250.6 465.6,250.3 465.9,250.4 466.2,251.3 466.5,252.1 466.8,253.3 467.2,253.4 467.5,253.9 467.8,255.6 468.1,259.6 468.4,261.3 468.7,265.0 469.0,268.3 469.3,270.5 469.6,271.0 469.9,274.5 470.2,276.0 470.5,275.9 470.8,272.9 471.1,272.4 471.4,269.1 471.8,268.3 472.1,265.0 472.4,265.2 472.7,265.9 473.0,266.8 473.3,269.6 473.6,270.2 473.9,272.4 474.2,272.8 474.5,274.0 474.8,276.0 475.1,274.4 475.5,274.2 475.8,272.4 476.2,273.2 476.5,275.6 476.9,276.0 477.2,271.7 477.5,269.2 477.8,266.8 478.0,265.3 478.2,263.1 478.4,261.3 478.6,265.0 478.9,269.9 479.1,272.4 479.4,273.0 479.7,273.9 480.0,276.0 480.3,271.6 480.7,269.8 481.0,266.8 481.3,265.0 481.6,264.3 481.9,263.1 482.1,264.2 482.2,266.6 482.4,270.5 482.7,266.5 483.1,263.9 483.4,259.5 483.7,254.0 484.0,250.8 484.3,244.7 484.6,237.4 484.8,229.3 485.1,222.0 485.3,218.2 485.5,212.1 485.7,208.3 485.9,213.2 486.1,218.4 486.3,222.0 486.4,232.0 486.6,242.1 486.7,252.1 486.9,257.1 487.2,261.4 487.4,266.8 487.7,268.1 487.9,271.9 488.2,274.2 488.4,276.4 488.7,280.0 488.9,283.4 489.2,282.3 489.5,282.2 489.8,279.7 490.1,279.0 490.4,277.3 490.7,276.0 491.0,275.8 491.4,273.1 491.7,272.4 492.0,270.2 492.3,269.2 492.6,266.8 492.9,264.5 493.2,261.2 493.5,259.5 493.8,259.8 494.1,261.6 494.4,261.3 494.7,259.3 495.0,259.4 495.3,257.6 495.6,257.0 496.0,260.1 496.3,259.5 496.6,257.5 496.9,254.1 497.2,252.1 497.5,256.5 497.8,259.1 498.1,261.3 498.4,258.8 498.7,258.1 499.0,257.6 499.3,256.3 499.7,256.5 500.0,253.9 500.3,254.8 500.6,256.4 500.9,259.5 501.2,255.9 501.5,252.1 501.8,250.3 502.1,251.9 502.4,254.1 502.7,255.8 503.0,256.9 503.3,257.3 503.6,259.5 503.9,258.8 504.2,261.5 504.5,261.3 504.8,262.4 505.2,263.7 505.5,265.0 505.8,262.5 506.1,260.6 506.4,257.6 506.7,257.5 507.0,256.0 507.3,253.9 507.6,253.3 507.9,251.0 508.2,250.3 508.5,251.8 508.8,254.0 509.1,257.6 509.4,259.8 509.8,258.8 510.1,261.3 510.4,259.9 510.8,259.3 511.1,256.6 511.5,257.5 511.8,259.2 512.2,260.9 512.5,262.1 512.9,265.0 513.2,265.2 513.6,267.1 513.9,269.0 514.3,269.5 514.7,268.9 515.0,271.5 515.4,271.6 515.8,267.2 516.1,262.7 516.5,258.7 516.8,255.3 517.2,250.8 517.5,245.8 517.9,243.4 518.2,239.3 518.6,235.1 518.8,234.8 519.0,232.0 519.2,230.8 519.4,233.1 519.7,235.9 519.9,237.2 520.2,241.4 520.5,244.8 520.8,250.1 521.1,253.2 521.5,256.9 521.8,258.7 522.2,261.2 522.5,260.5 522.9,263.0 523.3,260.5 523.6,258.0 524.0,256.6 524.4,258.3 524.7,262.2 525.1,263.0 525.4,264.2 525.8,265.3 526.1,267.3 526.5,264.5 526.8,262.9 527.2,260.9 527.6,264.2 527.9,266.2 528.3,269.5 528.7,272.2 529.0,275.9 529.4,280.2 529.7,276.7 530.1,275.6 530.4,271.6 530.8,267.8 531.1,266.6 531.5,263.0 531.9,259.8 532.2,259.5 532.6,256.6 533.0,257.4 533.3,260.2 533.7,260.9 534.0,259.3 534.4,256.9 534.7,256.6 535.1,256.2 535.4,258.8 535.8,258.7 536.2,258.1 536.5,257.3 536.9,256.6 537.3,257.6 537.6,260.0 538.0,260.9 538.3,261.6 538.7,261.1 539.0,263.0 539.4,265.4 539.7,266.8 540.1,269.5 540.5,269.0 540.8,266.8 541.2,265.2 541.6,263.8 541.9,259.8 542.3,258.7 542.6,258.6 543.0,257.6 543.3,256.6 543.7,261.1 544.0,264.8 544.4,267.3 544.8,271.0 545.1,274.8 545.5,278.1 545.7,280.3 545.9,280.3 546.1,282.4 546.3,281.1 546.4,280.3 546.6,278.1" class="crv"/>
<text x="468.7" y="321.6" class="pl" text-anchor="middle">(c)</text>
</svg>
</body></html>
